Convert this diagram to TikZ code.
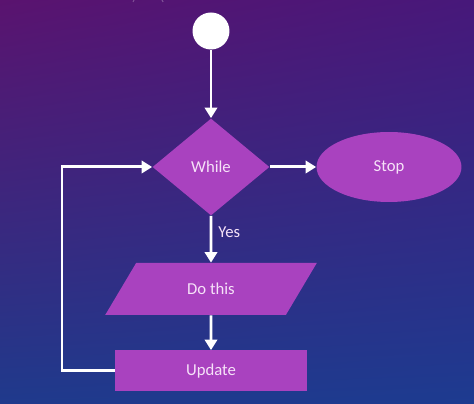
\documentclass[tikz,border=0pt]{standalone}
\usepackage{fontspec}
\setmainfont{Carlito}
\usepackage{tikz}
\usetikzlibrary{arrows.meta,positioning,shapes.geometric,calc,shadings}
\definecolor{bgpurple}{HTML}{5A136F}
\definecolor{bgviolet}{HTML}{47187A}
\definecolor{bgblue}{HTML}{1F3A8C}
\definecolor{bgblue2}{HTML}{1D3B90}
\definecolor{boxfill}{HTML}{A942BF}
\definecolor{boxtext}{HTML}{F6E2F8}
\tikzset{
  flowtext/.style={text=boxtext, font=\fontsize{9.5}{11}\selectfont},
  startdot/.style={circle, fill=white, draw=none, minimum size=0.74cm, inner sep=0pt},
  decision/.style={diamond, fill=boxfill, draw=none, flowtext,
    minimum width=2.34cm, minimum height=1.94cm, inner sep=0pt},
  terminal/.style={ellipse, fill=boxfill, draw=none, flowtext,
    minimum width=2.9cm, minimum height=1.4cm, inner sep=0pt},
  iobox/.style={trapezium, trapezium left angle=50, trapezium right angle=130,
    trapezium stretches=true, fill=boxfill, draw=none, flowtext,
    minimum width=4.24cm, minimum height=1.04cm, inner sep=0pt},
  procbox/.style={rectangle, fill=boxfill, draw=none, flowtext,
    minimum width=3.84cm, minimum height=0.82cm, inner sep=0pt},
  flowarrow/.style={-{Triangle[length=6pt,width=7pt]}, white, line width=1.7pt},
}

\begin{document}
\begin{tikzpicture}[x=0.02cm, y=-0.02cm]
  % background
  \shade[upper left=bgpurple, upper right=bgviolet, lower left=bgblue, lower right=bgblue2]
    (0,0) rectangle (474,404);
  \useasboundingbox (0,0) rectangle (474,404);
  \draw[white, opacity=0.25, line width=0.6pt] (133,2) arc[start angle=200, end angle=340, radius=16];

  \node[startdot] (start) at (211,31) {};
  \node[decision] (while) at (211,167) {While};
  \node[terminal] (stop) at (389,167) {Stop};
  \node[iobox] (dothis) at (211,289) {Do this};
  \node[procbox] (update) at (211,371) {Update};
  \coordinate (loop) at (62,371);

  \draw[flowarrow] (start) -- (while.north);
  \draw[flowarrow] (while.east) -- (stop.west);
  \draw[flowarrow] (while.south) -- node[pos=0.35, right, flowtext] {Yes} (dothis.north);
  \draw[flowarrow] (dothis.south) -- (update.north);
  \draw[flowarrow] (update.west) -- (loop) |- (while.west);
\end{tikzpicture}
\end{document}
